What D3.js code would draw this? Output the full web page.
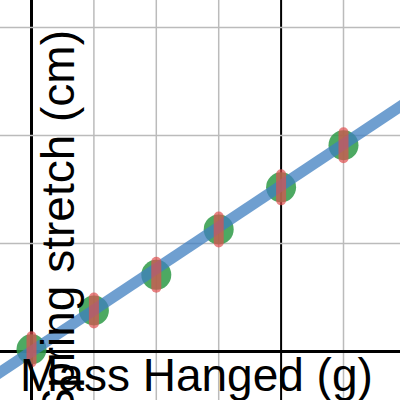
<!DOCTYPE html><html><head><script src="https://cdn.jsdelivr.net/npm/d3@7"></script>
<style>body{margin:0;background:#fff}</style></head><body><svg id="c" width="400" height="400"></svg>
<script>
const massX=[0,1,2,3,4,5];
const stretchY=[0.02,0.38,0.71,1.13,1.52,1.91];
const fitSlope=0.384, fitIntercept=0;
const xLabel="Mass Hanged (g)", yLabel="Spring stretch (cm)";
const xGrid=[-1,0,1,2,3,4,5,6];
const yGrid=[-1,0,1,2,3];
const svg=d3.select("#c");
const x=d3.scaleLinear().domain([0,1]).range([31.5,93.9]);
const y=d3.scaleLinear().domain([0,1]).range([351.5,243.5]);
const g=svg.append("g");
g.selectAll(".vx").data(xGrid).join("line").attr("x1",d=>x(d)).attr("x2",d=>x(d)).attr("y1",0).attr("y2",400)
 .attr("stroke",d=>d===0||d===4?"#000":"#bbb").attr("stroke-width",d=>d===0?3:d===4?2:1.5);
g.selectAll(".hy").data(yGrid).join("line").attr("y1",d=>y(d)).attr("y2",d=>y(d)).attr("x1",0).attr("x2",400)
 .attr("stroke",d=>d===0?"#000":"#bbb").attr("stroke-width",d=>d===0?3:1.5);
svg.selectAll(".pt").data(massX).join("circle").attr("cx",d=>x(d)).attr("cy",(d,i)=>y(stretchY[i])).attr("r",15)
 .attr("fill","#2e9a46").attr("opacity",0.85);
svg.append("line").attr("x1",x(-1)).attr("y1",y(fitIntercept-fitSlope)).attr("x2",x(7)).attr("y2",y(fitIntercept+7*fitSlope))
 .attr("stroke","#3f7fc1").attr("stroke-width",11).attr("opacity",0.75);
svg.selectAll(".eb").data(massX).join("line").attr("x1",d=>x(d)).attr("x2",d=>x(d))
 .attr("y1",(d,i)=>y(stretchY[i])-13).attr("y2",(d,i)=>y(stretchY[i])+13)
 .attr("stroke","#e05050").attr("stroke-width",10).attr("stroke-linecap","round").attr("opacity",0.7);
svg.append("text").attr("x",20).attr("y",391).attr("font-family","Liberation Sans, Arial").attr("font-size",46).text(xLabel);
svg.append("text").attr("transform","translate(74,30) rotate(-90)").attr("text-anchor","end")
 .attr("font-family","Liberation Sans, Arial").attr("font-size",46).text(yLabel);
</script></body></html>
